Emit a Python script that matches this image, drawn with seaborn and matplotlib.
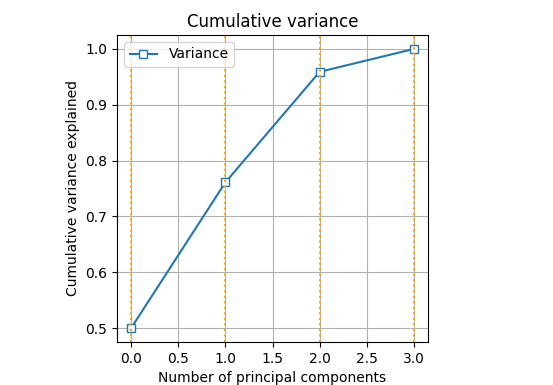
import numpy as np
import pandas as pd
import seaborn as sns
import matplotlib
matplotlib.use('Agg')
import matplotlib.pyplot as plt

# Data
components = [0, 1, 2, 3]
cum_variance = [0.500, 0.761, 0.959, 1.000]

df = pd.DataFrame({'components': components, 'variance': cum_variance})

fig = plt.figure(figsize=(5.53, 3.85), dpi=100)
ax = fig.add_axes([0.2116, 0.1117, 0.5624, 0.7974])

sns.lineplot(data=df, x='components', y='variance', ax=ax, marker='s',
             markerfacecolor='white', markeredgecolor='#1f77b4',
             markeredgewidth=1, markersize=6, label='Variance')

for c in components:
    ax.axvline(c, color='orange', linestyle=':', linewidth=1.5)

ax.grid(True)
ax.set_title('Cumulative variance')
ax.set_xlabel('Number of principal components')
ax.set_ylabel('Cumulative variance explained')
ax.legend(loc='upper left')

fig.savefig('out.png', dpi=100)
